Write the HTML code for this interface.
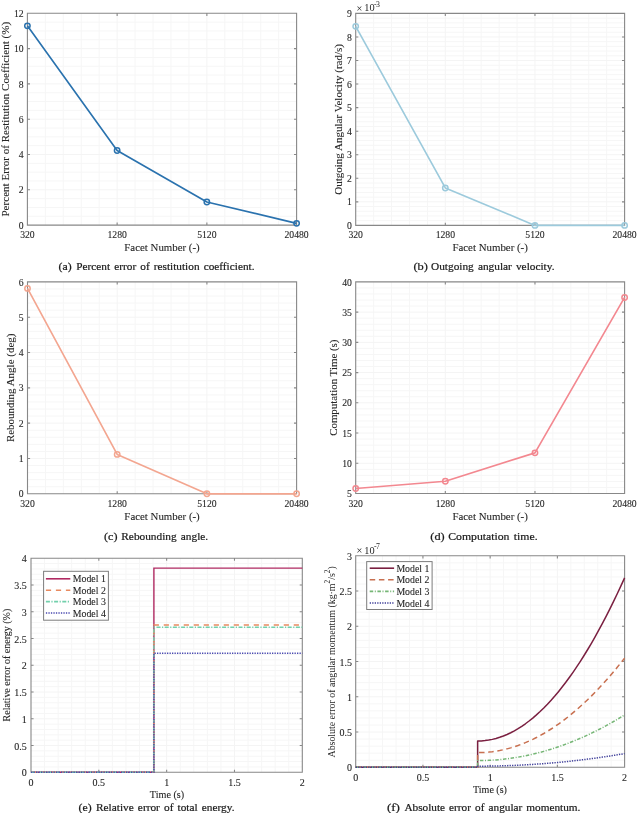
<!DOCTYPE html><html><head><meta charset="utf-8"><style>html,body{margin:0;padding:0;background:#fff;width:638px;height:813px;overflow:hidden}svg{display:block;filter:blur(0.3px)}</style></head><body><svg width="638" height="813" viewBox="0 0 638 813" font-family="'Liberation Serif', serif">
<rect width="638" height="813" fill="#ffffff"/>
<path d="M45.35 13.3V225.1M63.29 13.3V225.1M81.24 13.3V225.1M99.19 13.3V225.1M135.08 13.3V225.1M153.03 13.3V225.1M170.97 13.3V225.1M188.92 13.3V225.1M224.81 13.3V225.1M242.76 13.3V225.1M260.71 13.3V225.1M278.65 13.3V225.1M27.4 216.28H296.6M27.4 207.45H296.6M27.4 198.62H296.6M27.4 180.97H296.6M27.4 172.15H296.6M27.4 163.32H296.6M27.4 145.68H296.6M27.4 136.85H296.6M27.4 128.03H296.6M27.4 110.38H296.6M27.4 101.55H296.6M27.4 92.72H296.6M27.4 75.07H296.6M27.4 66.25H296.6M27.4 57.43H296.6M27.4 39.78H296.6M27.4 30.95H296.6M27.4 22.12H296.6" stroke="#f6f6f6" stroke-width="1" fill="none"/>
<path d="M117.13 13.3V225.1M206.87 13.3V225.1M27.4 189.8H296.6M27.4 154.5H296.6M27.4 119.2H296.6M27.4 83.9H296.6M27.4 48.6H296.6" stroke="#f4f4f4" stroke-width="1" fill="none"/>
<path d="M27.4 13.3H296.6V225.1H27.4ZM117.13 225.1v-2.6M117.13 13.3v2.6M206.87 225.1v-2.6M206.87 13.3v2.6M27.4 189.8h2.6M296.6 189.8h-2.6M27.4 154.5h2.6M296.6 154.5h-2.6M27.4 119.2h2.6M296.6 119.2h-2.6M27.4 83.9h2.6M296.6 83.9h-2.6M27.4 48.6h2.6M296.6 48.6h-2.6" stroke="#888888" stroke-width="1.1" fill="none"/>
<path d="M27.4 25.83 L117.13 150.44 L206.87 201.98 L296.6 223.34" stroke="#2a72ae" stroke-width="1.65" fill="none" stroke-linejoin="round" />
<circle cx="27.4" cy="25.83" r="2.7" stroke="#2a72ae" stroke-width="1.5" fill="none"/>
<circle cx="117.13" cy="150.44" r="2.7" stroke="#2a72ae" stroke-width="1.5" fill="none"/>
<circle cx="206.87" cy="201.98" r="2.7" stroke="#2a72ae" stroke-width="1.5" fill="none"/>
<circle cx="296.6" cy="223.34" r="2.7" stroke="#2a72ae" stroke-width="1.5" fill="none"/>
<text x="23.6" y="228.7" font-size="9.7" text-anchor="end" fill="#262626" stroke="#262626" stroke-width="0.1" >0</text>
<text x="23.6" y="193.4" font-size="9.7" text-anchor="end" fill="#262626" stroke="#262626" stroke-width="0.1" >2</text>
<text x="23.6" y="158.1" font-size="9.7" text-anchor="end" fill="#262626" stroke="#262626" stroke-width="0.1" >4</text>
<text x="23.6" y="122.8" font-size="9.7" text-anchor="end" fill="#262626" stroke="#262626" stroke-width="0.1" >6</text>
<text x="23.6" y="87.5" font-size="9.7" text-anchor="end" fill="#262626" stroke="#262626" stroke-width="0.1" >8</text>
<text x="23.6" y="52.2" font-size="9.7" text-anchor="end" fill="#262626" stroke="#262626" stroke-width="0.1" >10</text>
<text x="23.6" y="16.9" font-size="9.7" text-anchor="end" fill="#262626" stroke="#262626" stroke-width="0.1" >12</text>
<text x="27.4" y="238" font-size="9.7" text-anchor="middle" fill="#262626" stroke="#262626" stroke-width="0.1" >320</text>
<text x="117.13" y="238" font-size="9.7" text-anchor="middle" fill="#262626" stroke="#262626" stroke-width="0.1" >1280</text>
<text x="206.87" y="238" font-size="9.7" text-anchor="middle" fill="#262626" stroke="#262626" stroke-width="0.1" >5120</text>
<text x="296.6" y="238" font-size="9.7" text-anchor="middle" fill="#262626" stroke="#262626" stroke-width="0.1" >20480</text>
<text x="162" y="251.2" font-size="10.8" text-anchor="middle" fill="#262626" textLength="75.4" lengthAdjust="spacingAndGlyphs" stroke="#262626" stroke-width="0.1" >Facet Number (-)</text>
<text transform="translate(9,119.2) rotate(-90)" x="0" y="0" font-size="10.8" text-anchor="middle" fill="#262626" textLength="194.7" lengthAdjust="spacingAndGlyphs" stroke="#262626" stroke-width="0.1" >Percent Error of Restitution Coefficient (%)</text>
<text x="58.5" y="270" font-size="10.4" text-anchor="start" fill="#1a1a1a" textLength="13.1" lengthAdjust="spacingAndGlyphs" stroke="#1a1a1a" stroke-width="0.2">(a)</text>
<text x="76.3" y="270" font-size="10.4" text-anchor="start" fill="#1a1a1a" textLength="178.2" lengthAdjust="spacingAndGlyphs" stroke="#1a1a1a" word-spacing="1.2" stroke-width="0.2">Percent error of restitution coefficient.</text>
<path d="M373.63 13.4V225.4M391.55 13.4V225.4M409.48 13.4V225.4M427.41 13.4V225.4M463.26 13.4V225.4M481.19 13.4V225.4M499.11 13.4V225.4M517.04 13.4V225.4M552.89 13.4V225.4M570.82 13.4V225.4M588.75 13.4V225.4M606.67 13.4V225.4M355.7 220.69H624.6M355.7 215.98H624.6M355.7 211.27H624.6M355.7 206.56H624.6M355.7 197.13H624.6M355.7 192.42H624.6M355.7 187.71H624.6M355.7 183H624.6M355.7 173.58H624.6M355.7 168.87H624.6M355.7 164.16H624.6M355.7 159.44H624.6M355.7 150.02H624.6M355.7 145.31H624.6M355.7 140.6H624.6M355.7 135.89H624.6M355.7 126.47H624.6M355.7 121.76H624.6M355.7 117.04H624.6M355.7 112.33H624.6M355.7 102.91H624.6M355.7 98.2H624.6M355.7 93.49H624.6M355.7 88.78H624.6M355.7 79.36H624.6M355.7 74.64H624.6M355.7 69.93H624.6M355.7 65.22H624.6M355.7 55.8H624.6M355.7 51.09H624.6M355.7 46.38H624.6M355.7 41.67H624.6M355.7 32.24H624.6M355.7 27.53H624.6M355.7 22.82H624.6M355.7 18.11H624.6" stroke="#f6f6f6" stroke-width="1" fill="none"/>
<path d="M445.33 13.4V225.4M534.97 13.4V225.4M355.7 201.84H624.6M355.7 178.29H624.6M355.7 154.73H624.6M355.7 131.18H624.6M355.7 107.62H624.6M355.7 84.07H624.6M355.7 60.51H624.6M355.7 36.96H624.6" stroke="#f4f4f4" stroke-width="1" fill="none"/>
<path d="M355.7 13.4H624.6V225.4H355.7ZM445.33 225.4v-2.6M445.33 13.4v2.6M534.97 225.4v-2.6M534.97 13.4v2.6M355.7 201.84h2.6M624.6 201.84h-2.6M355.7 178.29h2.6M624.6 178.29h-2.6M355.7 154.73h2.6M624.6 154.73h-2.6M355.7 131.18h2.6M624.6 131.18h-2.6M355.7 107.62h2.6M624.6 107.62h-2.6M355.7 84.07h2.6M624.6 84.07h-2.6M355.7 60.51h2.6M624.6 60.51h-2.6M355.7 36.96h2.6M624.6 36.96h-2.6" stroke="#888888" stroke-width="1.1" fill="none"/>
<path d="M355.7 26.36 L445.33 187.95 L534.97 225.4 L624.6 225.4" stroke="#9ccadc" stroke-width="1.65" fill="none" stroke-linejoin="round" />
<circle cx="355.7" cy="26.36" r="2.7" stroke="#9ccadc" stroke-width="1.5" fill="none"/>
<circle cx="445.33" cy="187.95" r="2.7" stroke="#9ccadc" stroke-width="1.5" fill="none"/>
<circle cx="534.97" cy="225.4" r="2.7" stroke="#9ccadc" stroke-width="1.5" fill="none"/>
<circle cx="624.6" cy="225.4" r="2.7" stroke="#9ccadc" stroke-width="1.5" fill="none"/>
<text x="351.9" y="229" font-size="9.7" text-anchor="end" fill="#262626" stroke="#262626" stroke-width="0.1" >0</text>
<text x="351.9" y="205.44" font-size="9.7" text-anchor="end" fill="#262626" stroke="#262626" stroke-width="0.1" >1</text>
<text x="351.9" y="181.89" font-size="9.7" text-anchor="end" fill="#262626" stroke="#262626" stroke-width="0.1" >2</text>
<text x="351.9" y="158.33" font-size="9.7" text-anchor="end" fill="#262626" stroke="#262626" stroke-width="0.1" >3</text>
<text x="351.9" y="134.78" font-size="9.7" text-anchor="end" fill="#262626" stroke="#262626" stroke-width="0.1" >4</text>
<text x="351.9" y="111.22" font-size="9.7" text-anchor="end" fill="#262626" stroke="#262626" stroke-width="0.1" >5</text>
<text x="351.9" y="87.67" font-size="9.7" text-anchor="end" fill="#262626" stroke="#262626" stroke-width="0.1" >6</text>
<text x="351.9" y="64.11" font-size="9.7" text-anchor="end" fill="#262626" stroke="#262626" stroke-width="0.1" >7</text>
<text x="351.9" y="40.56" font-size="9.7" text-anchor="end" fill="#262626" stroke="#262626" stroke-width="0.1" >8</text>
<text x="351.9" y="17" font-size="9.7" text-anchor="end" fill="#262626" stroke="#262626" stroke-width="0.1" >9</text>
<text x="355.7" y="238" font-size="9.7" text-anchor="middle" fill="#262626" stroke="#262626" stroke-width="0.1" >320</text>
<text x="445.33" y="238" font-size="9.7" text-anchor="middle" fill="#262626" stroke="#262626" stroke-width="0.1" >1280</text>
<text x="534.97" y="238" font-size="9.7" text-anchor="middle" fill="#262626" stroke="#262626" stroke-width="0.1" >5120</text>
<text x="624.6" y="238" font-size="9.7" text-anchor="middle" fill="#262626" stroke="#262626" stroke-width="0.1" >20480</text>
<text x="490.15" y="251.2" font-size="10.8" text-anchor="middle" fill="#262626" textLength="75.4" lengthAdjust="spacingAndGlyphs" stroke="#262626" stroke-width="0.1" >Facet Number (-)</text>
<text transform="translate(342.1,119.4) rotate(-90)" x="0" y="0" font-size="10.8" text-anchor="middle" fill="#262626" textLength="150.8" lengthAdjust="spacingAndGlyphs" stroke="#262626" stroke-width="0.1" >Outgoing Angular Velocity (rad/s)</text>
<text x="413.5" y="270" font-size="10.4" text-anchor="start" fill="#1a1a1a" textLength="14.4" lengthAdjust="spacingAndGlyphs" stroke="#1a1a1a" stroke-width="0.2">(b)</text>
<text x="431" y="270" font-size="10.4" text-anchor="start" fill="#1a1a1a" textLength="123.5" lengthAdjust="spacingAndGlyphs" stroke="#1a1a1a" word-spacing="1.2" stroke-width="0.2">Outgoing angular velocity.</text>
<text x="356.6" y="11.5" font-size="10.3" fill="#262626">×</text><text x="364.3" y="11" font-size="10.3" fill="#262626">10</text><text x="374.0" y="6.6" font-size="7.8" fill="#262626">-</text><text x="375.9" y="6.6" font-size="7.8" fill="#262626">3</text>
<path d="M45.44 281.9V493.8M63.38 281.9V493.8M81.32 281.9V493.8M99.26 281.9V493.8M135.14 281.9V493.8M153.08 281.9V493.8M171.02 281.9V493.8M188.96 281.9V493.8M224.84 281.9V493.8M242.78 281.9V493.8M260.72 281.9V493.8M278.66 281.9V493.8M27.5 486.74H296.6M27.5 479.67H296.6M27.5 472.61H296.6M27.5 465.55H296.6M27.5 451.42H296.6M27.5 444.36H296.6M27.5 437.29H296.6M27.5 430.23H296.6M27.5 416.1H296.6M27.5 409.04H296.6M27.5 401.98H296.6M27.5 394.91H296.6M27.5 380.79H296.6M27.5 373.72H296.6M27.5 366.66H296.6M27.5 359.6H296.6M27.5 345.47H296.6M27.5 338.41H296.6M27.5 331.34H296.6M27.5 324.28H296.6M27.5 310.15H296.6M27.5 303.09H296.6M27.5 296.03H296.6M27.5 288.96H296.6" stroke="#f6f6f6" stroke-width="1" fill="none"/>
<path d="M117.2 281.9V493.8M206.9 281.9V493.8M27.5 458.48H296.6M27.5 423.17H296.6M27.5 387.85H296.6M27.5 352.53H296.6M27.5 317.22H296.6" stroke="#f4f4f4" stroke-width="1" fill="none"/>
<path d="M27.5 281.9H296.6V493.8H27.5ZM117.2 493.8v-2.6M117.2 281.9v2.6M206.9 493.8v-2.6M206.9 281.9v2.6M27.5 458.48h2.6M296.6 458.48h-2.6M27.5 423.17h2.6M296.6 423.17h-2.6M27.5 387.85h2.6M296.6 387.85h-2.6M27.5 352.53h2.6M296.6 352.53h-2.6M27.5 317.22h2.6M296.6 317.22h-2.6" stroke="#888888" stroke-width="1.1" fill="none"/>
<path d="M27.5 288.4 L117.2 454.42 L206.9 493.8 L296.6 493.8" stroke="#f3a690" stroke-width="1.65" fill="none" stroke-linejoin="round" />
<circle cx="27.5" cy="288.4" r="2.7" stroke="#f3a690" stroke-width="1.5" fill="none"/>
<circle cx="117.2" cy="454.42" r="2.7" stroke="#f3a690" stroke-width="1.5" fill="none"/>
<circle cx="206.9" cy="493.8" r="2.7" stroke="#f3a690" stroke-width="1.5" fill="none"/>
<circle cx="296.6" cy="493.8" r="2.7" stroke="#f3a690" stroke-width="1.5" fill="none"/>
<text x="23.7" y="497.4" font-size="9.7" text-anchor="end" fill="#262626" stroke="#262626" stroke-width="0.1" >0</text>
<text x="23.7" y="462.08" font-size="9.7" text-anchor="end" fill="#262626" stroke="#262626" stroke-width="0.1" >1</text>
<text x="23.7" y="426.77" font-size="9.7" text-anchor="end" fill="#262626" stroke="#262626" stroke-width="0.1" >2</text>
<text x="23.7" y="391.45" font-size="9.7" text-anchor="end" fill="#262626" stroke="#262626" stroke-width="0.1" >3</text>
<text x="23.7" y="356.13" font-size="9.7" text-anchor="end" fill="#262626" stroke="#262626" stroke-width="0.1" >4</text>
<text x="23.7" y="320.82" font-size="9.7" text-anchor="end" fill="#262626" stroke="#262626" stroke-width="0.1" >5</text>
<text x="23.7" y="285.5" font-size="9.7" text-anchor="end" fill="#262626" stroke="#262626" stroke-width="0.1" >6</text>
<text x="27.5" y="507" font-size="9.7" text-anchor="middle" fill="#262626" stroke="#262626" stroke-width="0.1" >320</text>
<text x="117.2" y="507" font-size="9.7" text-anchor="middle" fill="#262626" stroke="#262626" stroke-width="0.1" >1280</text>
<text x="206.9" y="507" font-size="9.7" text-anchor="middle" fill="#262626" stroke="#262626" stroke-width="0.1" >5120</text>
<text x="296.6" y="507" font-size="9.7" text-anchor="middle" fill="#262626" stroke="#262626" stroke-width="0.1" >20480</text>
<text x="162.05" y="519.7" font-size="10.8" text-anchor="middle" fill="#262626" textLength="75.4" lengthAdjust="spacingAndGlyphs" stroke="#262626" stroke-width="0.1" >Facet Number (-)</text>
<text transform="translate(13.8,387.85) rotate(-90)" x="0" y="0" font-size="10.8" text-anchor="middle" fill="#262626" textLength="108.5" lengthAdjust="spacingAndGlyphs" stroke="#262626" stroke-width="0.1" >Rebounding Angle (deg)</text>
<text x="104" y="539.8" font-size="10.4" text-anchor="start" fill="#1a1a1a" textLength="13.5" lengthAdjust="spacingAndGlyphs" stroke="#1a1a1a" stroke-width="0.2">(c)</text>
<text x="121.3" y="539.8" font-size="10.4" text-anchor="start" fill="#1a1a1a" textLength="86.9" lengthAdjust="spacingAndGlyphs" stroke="#1a1a1a" word-spacing="1.2" stroke-width="0.2">Rebounding angle.</text>
<path d="M373.63 281.9V493.5M391.55 281.9V493.5M409.48 281.9V493.5M427.41 281.9V493.5M463.26 281.9V493.5M481.19 281.9V493.5M499.11 281.9V493.5M517.04 281.9V493.5M552.89 281.9V493.5M570.82 281.9V493.5M588.75 281.9V493.5M606.67 281.9V493.5M355.7 487.45H624.6M355.7 481.41H624.6M355.7 475.36H624.6M355.7 469.32H624.6M355.7 457.23H624.6M355.7 451.18H624.6M355.7 445.13H624.6M355.7 439.09H624.6M355.7 427H624.6M355.7 420.95H624.6M355.7 414.91H624.6M355.7 408.86H624.6M355.7 396.77H624.6M355.7 390.72H624.6M355.7 384.68H624.6M355.7 378.63H624.6M355.7 366.54H624.6M355.7 360.49H624.6M355.7 354.45H624.6M355.7 348.4H624.6M355.7 336.31H624.6M355.7 330.27H624.6M355.7 324.22H624.6M355.7 318.17H624.6M355.7 306.08H624.6M355.7 300.04H624.6M355.7 293.99H624.6M355.7 287.95H624.6" stroke="#f6f6f6" stroke-width="1" fill="none"/>
<path d="M445.33 281.9V493.5M534.97 281.9V493.5M355.7 463.27H624.6M355.7 433.04H624.6M355.7 402.81H624.6M355.7 372.59H624.6M355.7 342.36H624.6M355.7 312.13H624.6" stroke="#f4f4f4" stroke-width="1" fill="none"/>
<path d="M355.7 281.9H624.6V493.5H355.7ZM445.33 493.5v-2.6M445.33 281.9v2.6M534.97 493.5v-2.6M534.97 281.9v2.6M355.7 463.27h2.6M624.6 463.27h-2.6M355.7 433.04h2.6M624.6 433.04h-2.6M355.7 402.81h2.6M624.6 402.81h-2.6M355.7 372.59h2.6M624.6 372.59h-2.6M355.7 342.36h2.6M624.6 342.36h-2.6M355.7 312.13h2.6M624.6 312.13h-2.6" stroke="#888888" stroke-width="1.1" fill="none"/>
<path d="M355.7 488.48 L445.33 481.23 L534.97 452.87 L624.6 297.44" stroke="#f38890" stroke-width="1.65" fill="none" stroke-linejoin="round" />
<circle cx="355.7" cy="488.48" r="2.7" stroke="#f38890" stroke-width="1.5" fill="none"/>
<circle cx="445.33" cy="481.23" r="2.7" stroke="#f38890" stroke-width="1.5" fill="none"/>
<circle cx="534.97" cy="452.87" r="2.7" stroke="#f38890" stroke-width="1.5" fill="none"/>
<circle cx="624.6" cy="297.44" r="2.7" stroke="#f38890" stroke-width="1.5" fill="none"/>
<text x="351.9" y="497.1" font-size="9.7" text-anchor="end" fill="#262626" stroke="#262626" stroke-width="0.1" >5</text>
<text x="351.9" y="466.87" font-size="9.7" text-anchor="end" fill="#262626" stroke="#262626" stroke-width="0.1" >10</text>
<text x="351.9" y="436.64" font-size="9.7" text-anchor="end" fill="#262626" stroke="#262626" stroke-width="0.1" >15</text>
<text x="351.9" y="406.41" font-size="9.7" text-anchor="end" fill="#262626" stroke="#262626" stroke-width="0.1" >20</text>
<text x="351.9" y="376.19" font-size="9.7" text-anchor="end" fill="#262626" stroke="#262626" stroke-width="0.1" >25</text>
<text x="351.9" y="345.96" font-size="9.7" text-anchor="end" fill="#262626" stroke="#262626" stroke-width="0.1" >30</text>
<text x="351.9" y="315.73" font-size="9.7" text-anchor="end" fill="#262626" stroke="#262626" stroke-width="0.1" >35</text>
<text x="351.9" y="285.5" font-size="9.7" text-anchor="end" fill="#262626" stroke="#262626" stroke-width="0.1" >40</text>
<text x="355.7" y="507" font-size="9.7" text-anchor="middle" fill="#262626" stroke="#262626" stroke-width="0.1" >320</text>
<text x="445.33" y="507" font-size="9.7" text-anchor="middle" fill="#262626" stroke="#262626" stroke-width="0.1" >1280</text>
<text x="534.97" y="507" font-size="9.7" text-anchor="middle" fill="#262626" stroke="#262626" stroke-width="0.1" >5120</text>
<text x="624.6" y="507" font-size="9.7" text-anchor="middle" fill="#262626" stroke="#262626" stroke-width="0.1" >20480</text>
<text x="490.15" y="519.7" font-size="10.8" text-anchor="middle" fill="#262626" textLength="75.4" lengthAdjust="spacingAndGlyphs" stroke="#262626" stroke-width="0.1" >Facet Number (-)</text>
<text transform="translate(337.1,387.7) rotate(-90)" x="0" y="0" font-size="10.8" text-anchor="middle" fill="#262626" textLength="96.3" lengthAdjust="spacingAndGlyphs" stroke="#262626" stroke-width="0.1" >Computation Time (s)</text>
<text x="430.3" y="539.8" font-size="10.4" text-anchor="start" fill="#1a1a1a" textLength="14.4" lengthAdjust="spacingAndGlyphs" stroke="#1a1a1a" stroke-width="0.2">(d)</text>
<text x="448.2" y="539.8" font-size="10.4" text-anchor="start" fill="#1a1a1a" textLength="89.4" lengthAdjust="spacingAndGlyphs" stroke="#1a1a1a" word-spacing="1.2" stroke-width="0.2">Computation time.</text>
<path d="M44.56 558.2V772.3M58.13 558.2V772.3M71.69 558.2V772.3M85.26 558.2V772.3M112.39 558.2V772.3M125.95 558.2V772.3M139.52 558.2V772.3M153.09 558.2V772.3M180.22 558.2V772.3M193.78 558.2V772.3M207.35 558.2V772.3M220.91 558.2V772.3M248.04 558.2V772.3M261.61 558.2V772.3M275.17 558.2V772.3M288.74 558.2V772.3M31 766.95H302.3M31 761.59H302.3M31 756.24H302.3M31 750.89H302.3M31 740.18H302.3M31 734.83H302.3M31 729.48H302.3M31 724.13H302.3M31 713.42H302.3M31 708.07H302.3M31 702.72H302.3M31 697.37H302.3M31 686.66H302.3M31 681.31H302.3M31 675.96H302.3M31 670.6H302.3M31 659.9H302.3M31 654.54H302.3M31 649.19H302.3M31 643.84H302.3M31 633.13H302.3M31 627.78H302.3M31 622.43H302.3M31 617.08H302.3M31 606.37H302.3M31 601.02H302.3M31 595.67H302.3M31 590.32H302.3M31 579.61H302.3M31 574.26H302.3M31 568.91H302.3M31 563.55H302.3" stroke="#f6f6f6" stroke-width="1" fill="none"/>
<path d="M98.83 558.2V772.3M166.65 558.2V772.3M234.48 558.2V772.3M31 745.54H302.3M31 718.77H302.3M31 692.01H302.3M31 665.25H302.3M31 638.49H302.3M31 611.73H302.3M31 584.96H302.3" stroke="#f4f4f4" stroke-width="1" fill="none"/>
<path d="M31 558.2H302.3V772.3H31ZM98.83 772.3v-2.6M98.83 558.2v2.6M166.65 772.3v-2.6M166.65 558.2v2.6M234.48 772.3v-2.6M234.48 558.2v2.6M31 745.54h2.6M302.3 745.54h-2.6M31 718.77h2.6M302.3 718.77h-2.6M31 692.01h2.6M302.3 692.01h-2.6M31 665.25h2.6M302.3 665.25h-2.6M31 638.49h2.6M302.3 638.49h-2.6M31 611.73h2.6M302.3 611.73h-2.6M31 584.96h2.6M302.3 584.96h-2.6" stroke="#888888" stroke-width="1.1" fill="none"/>
<path d="M31 772.3 L153.9 772.3 L153.9 568.1 L302.3 568.1" stroke="#b02a62" stroke-width="1.4" fill="none" stroke-linejoin="miter"/>
<path d="M31 772.3 L153.9 772.3 L153.9 625.05 L302.3 625.05" stroke="#e88a60" stroke-width="1.4" fill="none" stroke-dasharray="5.2 4.8" stroke-linejoin="miter"/>
<path d="M31 772.3 L153.9 772.3 L153.9 627.19 L302.3 627.19" stroke="#72d0ac" stroke-width="1.4" fill="none" stroke-dasharray="4 1.5 1.2 1.5" stroke-linejoin="miter"/>
<path d="M31 772.3 L153.9 772.3 L153.9 653.31 L302.3 653.31" stroke="#4a4ab0" stroke-width="1.4" fill="none" stroke-dasharray="1.3 1.2" stroke-linejoin="miter"/>
<text x="26.8" y="776.4" font-size="10" text-anchor="end" fill="#262626" stroke="#262626" stroke-width="0.1" >0</text>
<text x="26.8" y="749.64" font-size="10" text-anchor="end" fill="#262626" stroke="#262626" stroke-width="0.1" >0.5</text>
<text x="26.8" y="722.88" font-size="10" text-anchor="end" fill="#262626" stroke="#262626" stroke-width="0.1" >1</text>
<text x="26.8" y="696.11" font-size="10" text-anchor="end" fill="#262626" stroke="#262626" stroke-width="0.1" >1.5</text>
<text x="26.8" y="669.35" font-size="10" text-anchor="end" fill="#262626" stroke="#262626" stroke-width="0.1" >2</text>
<text x="26.8" y="642.59" font-size="10" text-anchor="end" fill="#262626" stroke="#262626" stroke-width="0.1" >2.5</text>
<text x="26.8" y="615.83" font-size="10" text-anchor="end" fill="#262626" stroke="#262626" stroke-width="0.1" >3</text>
<text x="26.8" y="589.06" font-size="10" text-anchor="end" fill="#262626" stroke="#262626" stroke-width="0.1" >3.5</text>
<text x="26.8" y="562.3" font-size="10" text-anchor="end" fill="#262626" stroke="#262626" stroke-width="0.1" >4</text>
<text x="31" y="786.4" font-size="10" text-anchor="middle" fill="#262626" stroke="#262626" stroke-width="0.1" >0</text>
<text x="98.83" y="786.4" font-size="10" text-anchor="middle" fill="#262626" stroke="#262626" stroke-width="0.1" >0.5</text>
<text x="166.65" y="786.4" font-size="10" text-anchor="middle" fill="#262626" stroke="#262626" stroke-width="0.1" >1</text>
<text x="234.48" y="786.4" font-size="10" text-anchor="middle" fill="#262626" stroke="#262626" stroke-width="0.1" >1.5</text>
<text x="302.3" y="786.4" font-size="10" text-anchor="middle" fill="#262626" stroke="#262626" stroke-width="0.1" >2</text>
<text x="167" y="798" font-size="10" text-anchor="middle" fill="#262626" textLength="34.3" lengthAdjust="spacingAndGlyphs" stroke="#262626" stroke-width="0.1" >Time (s)</text>
<text transform="translate(10.1,665.1) rotate(-90)" x="0" y="0" font-size="9.96" text-anchor="middle" fill="#262626" textLength="112.6" lengthAdjust="spacingAndGlyphs" stroke="#262626" stroke-width="0.1" >Relative error of energy (%)</text>
<text x="78.5" y="810.5" font-size="10.4" text-anchor="start" fill="#1a1a1a" textLength="13.1" lengthAdjust="spacingAndGlyphs" stroke="#1a1a1a" stroke-width="0.2">(e)</text>
<text x="96" y="810.5" font-size="10.4" text-anchor="start" fill="#1a1a1a" textLength="138.5" lengthAdjust="spacingAndGlyphs" stroke="#1a1a1a" word-spacing="1.2" stroke-width="0.2">Relative error of total energy.</text>
<rect x="43.6" y="571.3" width="64.8" height="48.9" fill="#ffffff" stroke="#7c7c7c" stroke-width="1"/>
<path d="M45.9 578.8H70.3" stroke="#b02a62" stroke-width="1.6"/>
<text x="72.8" y="582.3" font-size="9.8" text-anchor="start" fill="#262626" textLength="33" lengthAdjust="spacingAndGlyphs" stroke="#262626" stroke-width="0.1" >Model 1</text>
<path d="M45.9 590.2H70.3" stroke="#e88a60" stroke-width="1.6" stroke-dasharray="5.2 4.8"/>
<text x="72.8" y="593.7" font-size="9.8" text-anchor="start" fill="#262626" textLength="33" lengthAdjust="spacingAndGlyphs" stroke="#262626" stroke-width="0.1" >Model 2</text>
<path d="M45.9 601.6H70.3" stroke="#72d0ac" stroke-width="1.6" stroke-dasharray="4 1.5 1.2 1.5"/>
<text x="72.8" y="605.1" font-size="9.8" text-anchor="start" fill="#262626" textLength="33" lengthAdjust="spacingAndGlyphs" stroke="#262626" stroke-width="0.1" >Model 3</text>
<path d="M45.9 613H70.3" stroke="#4a4ab0" stroke-width="1.6" stroke-dasharray="1.3 1.2"/>
<text x="72.8" y="616.5" font-size="9.8" text-anchor="start" fill="#262626" textLength="33" lengthAdjust="spacingAndGlyphs" stroke="#262626" stroke-width="0.1" >Model 4</text>
<path d="M369.14 555.8V767.3M382.59 555.8V767.3M396.03 555.8V767.3M409.48 555.8V767.3M436.37 555.8V767.3M449.81 555.8V767.3M463.26 555.8V767.3M476.71 555.8V767.3M503.6 555.8V767.3M517.04 555.8V767.3M530.49 555.8V767.3M543.93 555.8V767.3M570.82 555.8V767.3M584.26 555.8V767.3M597.71 555.8V767.3M611.15 555.8V767.3M355.7 760.25H624.6M355.7 753.2H624.6M355.7 746.15H624.6M355.7 739.1H624.6M355.7 725H624.6M355.7 717.95H624.6M355.7 710.9H624.6M355.7 703.85H624.6M355.7 689.75H624.6M355.7 682.7H624.6M355.7 675.65H624.6M355.7 668.6H624.6M355.7 654.5H624.6M355.7 647.45H624.6M355.7 640.4H624.6M355.7 633.35H624.6M355.7 619.25H624.6M355.7 612.2H624.6M355.7 605.15H624.6M355.7 598.1H624.6M355.7 584H624.6M355.7 576.95H624.6M355.7 569.9H624.6M355.7 562.85H624.6" stroke="#f6f6f6" stroke-width="1" fill="none"/>
<path d="M422.93 555.8V767.3M490.15 555.8V767.3M557.38 555.8V767.3M355.7 732.05H624.6M355.7 696.8H624.6M355.7 661.55H624.6M355.7 626.3H624.6M355.7 591.05H624.6" stroke="#f4f4f4" stroke-width="1" fill="none"/>
<path d="M355.7 555.8H624.6V767.3H355.7ZM422.93 767.3v-2.6M422.93 555.8v2.6M490.15 767.3v-2.6M490.15 555.8v2.6M557.38 767.3v-2.6M557.38 555.8v2.6M355.7 732.05h2.6M624.6 732.05h-2.6M355.7 696.8h2.6M624.6 696.8h-2.6M355.7 661.55h2.6M624.6 661.55h-2.6M355.7 626.3h2.6M624.6 626.3h-2.6M355.7 591.05h2.6M624.6 591.05h-2.6" stroke="#888888" stroke-width="1.1" fill="none"/>
<path d="M355.7 767.3 L477.65 767.3 L477.65 741 L481.32 740.9 L484.99 740.6 L488.67 740.09 L492.34 739.37 L496.02 738.45 L499.69 737.33 L503.36 736.01 L507.04 734.48 L510.71 732.74 L514.38 730.81 L518.06 728.67 L521.73 726.32 L525.41 723.77 L529.08 721.02 L532.75 718.06 L536.43 714.9 L540.1 711.54 L543.78 707.97 L547.45 704.2 L551.12 700.22 L554.8 696.04 L558.47 691.65 L562.14 687.07 L565.82 682.27 L569.49 677.28 L573.17 672.08 L576.84 666.67 L580.51 661.07 L584.19 655.25 L587.86 649.24 L591.54 643.02 L595.21 636.6 L598.88 629.97 L602.56 623.14 L606.23 616.1 L609.9 608.86 L613.58 601.42 L617.25 593.77 L620.93 585.92 L624.6 577.87" stroke="#7a1f40" stroke-width="1.5" fill="none" stroke-linejoin="round" />
<path d="M355.7 767.3 L477.65 767.3 L477.65 752.64 L481.32 752.58 L484.99 752.4 L488.67 752.1 L492.34 751.69 L496.02 751.16 L499.69 750.51 L503.36 749.74 L507.04 748.85 L510.71 747.85 L514.38 746.73 L518.06 745.49 L521.73 744.13 L525.41 742.65 L529.08 741.05 L532.75 739.34 L536.43 737.51 L540.1 735.56 L543.78 733.49 L547.45 731.31 L551.12 729 L554.8 726.58 L558.47 724.04 L562.14 721.38 L565.82 718.6 L569.49 715.71 L573.17 712.69 L576.84 709.56 L580.51 706.31 L584.19 702.94 L587.86 699.46 L591.54 695.85 L595.21 692.13 L598.88 688.29 L602.56 684.33 L606.23 680.25 L609.9 676.06 L613.58 671.74 L617.25 667.31 L620.93 662.76 L624.6 658.1" stroke="#c87050" stroke-width="1.5" fill="none" stroke-linejoin="round" stroke-dasharray="5.5 3.7" />
<path d="M355.7 767.3 L477.65 767.3 L477.65 760.6 L481.32 760.57 L484.99 760.49 L488.67 760.35 L492.34 760.15 L496.02 759.89 L499.69 759.57 L503.36 759.2 L507.04 758.78 L510.71 758.29 L514.38 757.75 L518.06 757.15 L521.73 756.49 L525.41 755.78 L529.08 755.01 L532.75 754.18 L536.43 753.29 L540.1 752.35 L543.78 751.35 L547.45 750.3 L551.12 749.18 L554.8 748.01 L558.47 746.78 L562.14 745.5 L565.82 744.16 L569.49 742.76 L573.17 741.3 L576.84 739.79 L580.51 738.22 L584.19 736.59 L587.86 734.91 L591.54 733.16 L595.21 731.36 L598.88 729.51 L602.56 727.6 L606.23 725.63 L609.9 723.6 L613.58 721.51 L617.25 719.37 L620.93 717.17 L624.6 714.92" stroke="#76b676" stroke-width="1.5" fill="none" stroke-linejoin="round" stroke-dasharray="3.5 1.6 1 1.6" />
<path d="M355.7 767.3 L477.65 767.3 L477.65 766.17 L481.32 766.16 L484.99 766.14 L488.67 766.1 L492.34 766.05 L496.02 765.98 L499.69 765.89 L503.36 765.79 L507.04 765.67 L510.71 765.54 L514.38 765.39 L518.06 765.22 L521.73 765.04 L525.41 764.85 L529.08 764.63 L532.75 764.41 L536.43 764.16 L540.1 763.91 L543.78 763.63 L547.45 763.34 L551.12 763.03 L554.8 762.71 L558.47 762.38 L562.14 762.02 L565.82 761.65 L569.49 761.27 L573.17 760.87 L576.84 760.45 L580.51 760.02 L584.19 759.58 L587.86 759.11 L591.54 758.63 L595.21 758.14 L598.88 757.63 L602.56 757.11 L606.23 756.56 L609.9 756.01 L613.58 755.43 L617.25 754.85 L620.93 754.24 L624.6 753.62" stroke="#40409a" stroke-width="1.5" fill="none" stroke-linejoin="round" stroke-dasharray="1.3 1.2" />
<text x="351.9" y="771.4" font-size="10" text-anchor="end" fill="#262626" stroke="#262626" stroke-width="0.1" >0</text>
<text x="351.9" y="736.15" font-size="10" text-anchor="end" fill="#262626" stroke="#262626" stroke-width="0.1" >0.5</text>
<text x="351.9" y="700.9" font-size="10" text-anchor="end" fill="#262626" stroke="#262626" stroke-width="0.1" >1</text>
<text x="351.9" y="665.65" font-size="10" text-anchor="end" fill="#262626" stroke="#262626" stroke-width="0.1" >1.5</text>
<text x="351.9" y="630.4" font-size="10" text-anchor="end" fill="#262626" stroke="#262626" stroke-width="0.1" >2</text>
<text x="351.9" y="595.15" font-size="10" text-anchor="end" fill="#262626" stroke="#262626" stroke-width="0.1" >2.5</text>
<text x="351.9" y="559.9" font-size="10" text-anchor="end" fill="#262626" stroke="#262626" stroke-width="0.1" >3</text>
<text x="355.7" y="780.8" font-size="10" text-anchor="middle" fill="#262626" stroke="#262626" stroke-width="0.1" >0</text>
<text x="422.93" y="780.8" font-size="10" text-anchor="middle" fill="#262626" stroke="#262626" stroke-width="0.1" >0.5</text>
<text x="490.15" y="780.8" font-size="10" text-anchor="middle" fill="#262626" stroke="#262626" stroke-width="0.1" >1</text>
<text x="557.38" y="780.8" font-size="10" text-anchor="middle" fill="#262626" stroke="#262626" stroke-width="0.1" >1.5</text>
<text x="624.6" y="780.8" font-size="10" text-anchor="middle" fill="#262626" stroke="#262626" stroke-width="0.1" >2</text>
<text x="490" y="792.5" font-size="10" text-anchor="middle" fill="#262626" textLength="33.9" lengthAdjust="spacingAndGlyphs" stroke="#262626" stroke-width="0.1" >Time (s)</text>
<text transform="translate(335.4,661.9) rotate(-90)" font-size="10.3" text-anchor="middle" fill="#262626" textLength="191.2" lengthAdjust="spacingAndGlyphs">Absolute error of angular momentum (kg·m<tspan font-size="7.6" dy="-5.2">2</tspan><tspan dy="5.2">/s</tspan><tspan font-size="7.6" dy="-5.2">2</tspan><tspan dy="5.2">)</tspan></text>
<text x="386.9" y="810.5" font-size="10.4" text-anchor="start" fill="#1a1a1a" textLength="13.1" lengthAdjust="spacingAndGlyphs" stroke="#1a1a1a" stroke-width="0.2">(f)</text>
<text x="404.4" y="810.5" font-size="10.4" text-anchor="start" fill="#1a1a1a" textLength="176" lengthAdjust="spacingAndGlyphs" stroke="#1a1a1a" word-spacing="1.2" stroke-width="0.2">Absolute error of angular momentum.</text>
<text x="356.6" y="554.2" font-size="10.3" fill="#262626">×</text><text x="364.3" y="553.6" font-size="10.3" fill="#262626">10</text><text x="374.0" y="549.2" font-size="7.8" fill="#262626">-</text><text x="375.9" y="549.2" font-size="7.8" fill="#262626">7</text>
<rect x="366.7" y="561.6" width="65.4" height="47.9" fill="#ffffff" stroke="#7c7c7c" stroke-width="1"/>
<path d="M369.7 568.2H394.1" stroke="#7a1f40" stroke-width="1.6"/>
<text x="396.4" y="571.8" font-size="10" text-anchor="start" fill="#262626" textLength="33" lengthAdjust="spacingAndGlyphs" stroke="#262626" stroke-width="0.1" >Model 1</text>
<path d="M369.7 579.8H394.1" stroke="#c87050" stroke-width="1.6" stroke-dasharray="5.5 3.7"/>
<text x="396.4" y="583.4" font-size="10" text-anchor="start" fill="#262626" textLength="33" lengthAdjust="spacingAndGlyphs" stroke="#262626" stroke-width="0.1" >Model 2</text>
<path d="M369.7 591.4H394.1" stroke="#76b676" stroke-width="1.6" stroke-dasharray="3.5 1.6 1 1.6"/>
<text x="396.4" y="595" font-size="10" text-anchor="start" fill="#262626" textLength="33" lengthAdjust="spacingAndGlyphs" stroke="#262626" stroke-width="0.1" >Model 3</text>
<path d="M369.7 603H394.1" stroke="#40409a" stroke-width="1.6" stroke-dasharray="1.3 1.2"/>
<text x="396.4" y="606.6" font-size="10" text-anchor="start" fill="#262626" textLength="33" lengthAdjust="spacingAndGlyphs" stroke="#262626" stroke-width="0.1" >Model 4</text>
</svg></body></html>
